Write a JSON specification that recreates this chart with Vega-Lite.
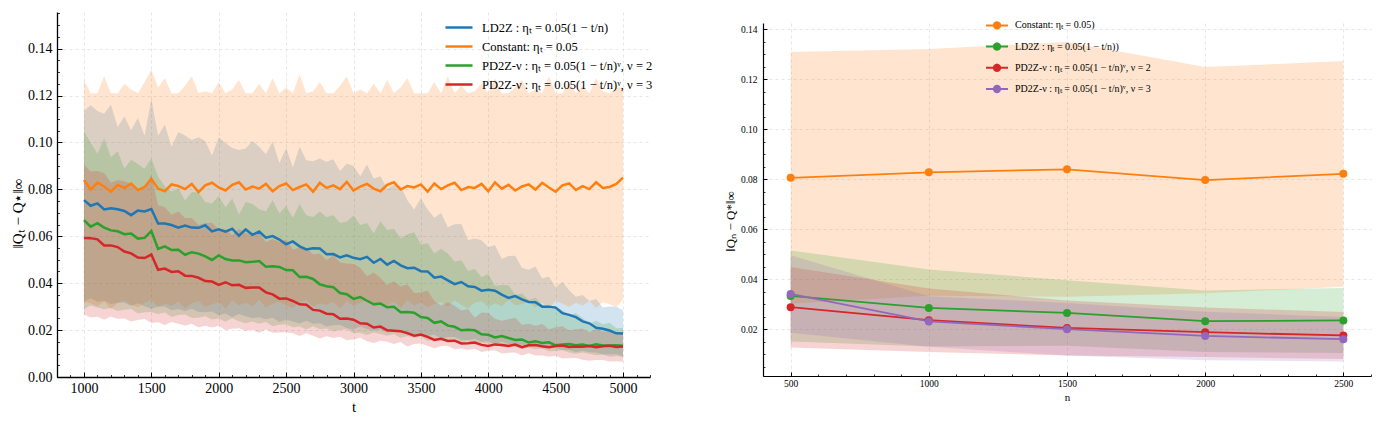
{
  "$schema": "https://vega.github.io/schema/vega-lite/v6.json",
  "background": "white",
  "padding": {"left": 10, "top": 12, "right": 2, "bottom": 2},
  "config": {
    "font": "Liberation Serif",
    "view": {"stroke": null},
    "axis": {
      "labelFont": "Liberation Serif", "titleFont": "Liberation Serif",
      "labelColor": "black", "titleColor": "black", "titleFontWeight": "normal",
      "domainColor": "black", "tickColor": "black",
      "gridColor": "#dcdcdc", "gridDash": [3, 3], "gridWidth": 0.7
    },
    "legend": {"labelFont": "Liberation Serif", "labelColor": "black", "labelLimit": 500}
  },
  "resolve": {
    "scale": {"stroke": "independent"},
    "legend": {"stroke": "independent"}
  },
  "spacing": 71,
  "hconcat": [
    {
      "width": 593,
      "height": 365,
      "data": {"values": [
        {"t":1000,"c":0.0840,"cl":0.0320,"ch":0.1266,"l":0.0754,"ll":0.0322,"lh":0.1134,"g":0.0669,"gl":0.0291,"gh":0.1045,"r":0.0593,"rl":0.0266,"rh":0.0906},
        {"t":1050,"c":0.0799,"cl":0.0314,"ch":0.1210,"l":0.0730,"ll":0.0336,"lh":0.1158,"g":0.0641,"gl":0.0305,"gh":0.1000,"r":0.0592,"rl":0.0254,"rh":0.0876},
        {"t":1100,"c":0.0828,"cl":0.0302,"ch":0.1210,"l":0.0740,"ll":0.0321,"lh":0.1134,"g":0.0656,"gl":0.0296,"gh":0.0952,"r":0.0587,"rl":0.0257,"rh":0.0878},
        {"t":1150,"c":0.0812,"cl":0.0322,"ch":0.1282,"l":0.0714,"ll":0.0325,"lh":0.1122,"g":0.0637,"gl":0.0289,"gh":0.1017,"r":0.0561,"rl":0.0244,"rh":0.0870},
        {"t":1200,"c":0.0790,"cl":0.0290,"ch":0.1210,"l":0.0719,"ll":0.0311,"lh":0.1162,"g":0.0625,"gl":0.0294,"gh":0.0937,"r":0.0561,"rl":0.0258,"rh":0.0828},
        {"t":1250,"c":0.0819,"cl":0.0316,"ch":0.1210,"l":0.0715,"ll":0.0316,"lh":0.1066,"g":0.0621,"gl":0.0281,"gh":0.0962,"r":0.0554,"rl":0.0247,"rh":0.0840},
        {"t":1300,"c":0.0806,"cl":0.0326,"ch":0.1250,"l":0.0708,"ll":0.0317,"lh":0.1110,"g":0.0609,"gl":0.0287,"gh":0.0889,"r":0.0535,"rl":0.0249,"rh":0.0834},
        {"t":1350,"c":0.0825,"cl":0.0308,"ch":0.1226,"l":0.0690,"ll":0.0304,"lh":0.1052,"g":0.0612,"gl":0.0290,"gh":0.0926,"r":0.0527,"rl":0.0237,"rh":0.0824},
        {"t":1400,"c":0.0797,"cl":0.0296,"ch":0.1210,"l":0.0710,"ll":0.0314,"lh":0.1104,"g":0.0590,"gl":0.0271,"gh":0.0908,"r":0.0509,"rl":0.0243,"rh":0.0804},
        {"t":1450,"c":0.0810,"cl":0.0318,"ch":0.1258,"l":0.0706,"ll":0.0302,"lh":0.1028,"g":0.0593,"gl":0.0276,"gh":0.0888,"r":0.0507,"rl":0.0247,"rh":0.0802},
        {"t":1500,"c":0.0845,"cl":0.0328,"ch":0.1310,"l":0.0716,"ll":0.0291,"lh":0.1186,"g":0.0622,"gl":0.0277,"gh":0.0933,"r":0.0522,"rl":0.0230,"rh":0.0862},
        {"t":1550,"c":0.0803,"cl":0.0300,"ch":0.1234,"l":0.0654,"ll":0.0300,"lh":0.1028,"g":0.0546,"gl":0.0269,"gh":0.0854,"r":0.0457,"rl":0.0233,"rh":0.0732},
        {"t":1600,"c":0.0792,"cl":0.0312,"ch":0.1274,"l":0.0654,"ll":0.0301,"lh":0.1076,"g":0.0557,"gl":0.0275,"gh":0.0813,"r":0.0462,"rl":0.0222,"rh":0.0724},
        {"t":1650,"c":0.0821,"cl":0.0304,"ch":0.1210,"l":0.0648,"ll":0.0285,"lh":0.0982,"g":0.0541,"gl":0.0256,"gh":0.0791,"r":0.0448,"rl":0.0234,"rh":0.0692},
        {"t":1700,"c":0.0814,"cl":0.0322,"ch":0.1210,"l":0.0637,"ll":0.0290,"lh":0.1044,"g":0.0542,"gl":0.0264,"gh":0.0805,"r":0.0451,"rl":0.0227,"rh":0.0706},
        {"t":1750,"c":0.0801,"cl":0.0294,"ch":0.1242,"l":0.0646,"ll":0.0281,"lh":0.1030,"g":0.0521,"gl":0.0266,"gh":0.0752,"r":0.0432,"rl":0.0220,"rh":0.0678},
        {"t":1800,"c":0.0823,"cl":0.0314,"ch":0.1282,"l":0.0637,"ll":0.0291,"lh":0.1010,"g":0.0532,"gl":0.0252,"gh":0.0789,"r":0.0431,"rl":0.0227,"rh":0.0678},
        {"t":1850,"c":0.0788,"cl":0.0324,"ch":0.1210,"l":0.0636,"ll":0.0277,"lh":0.1022,"g":0.0526,"gl":0.0253,"gh":0.0787,"r":0.0423,"rl":0.0211,"rh":0.0648},
        {"t":1900,"c":0.0817,"cl":0.0298,"ch":0.1218,"l":0.0647,"ll":0.0276,"lh":0.1006,"g":0.0514,"gl":0.0259,"gh":0.0746,"r":0.0409,"rl":0.0219,"rh":0.0656},
        {"t":1950,"c":0.0828,"cl":0.0310,"ch":0.1210,"l":0.0621,"ll":0.0279,"lh":0.0944,"g":0.0499,"gl":0.0245,"gh":0.0740,"r":0.0407,"rl":0.0211,"rh":0.0658},
        {"t":2000,"c":0.0808,"cl":0.0320,"ch":0.1258,"l":0.0630,"ll":0.0263,"lh":0.1022,"g":0.0518,"gl":0.0249,"gh":0.0772,"r":0.0393,"rl":0.0218,"rh":0.0630},
        {"t":2050,"c":0.0795,"cl":0.0292,"ch":0.1210,"l":0.0620,"ll":0.0271,"lh":0.0998,"g":0.0503,"gl":0.0236,"gh":0.0724,"r":0.0404,"rl":0.0199,"rh":0.0630},
        {"t":2100,"c":0.0819,"cl":0.0326,"ch":0.1226,"l":0.0632,"ll":0.0255,"lh":0.0976,"g":0.0497,"gl":0.0250,"gh":0.0761,"r":0.0391,"rl":0.0206,"rh":0.0604},
        {"t":2150,"c":0.0830,"cl":0.0306,"ch":0.1266,"l":0.0602,"ll":0.0269,"lh":0.0968,"g":0.0497,"gl":0.0238,"gh":0.0693,"r":0.0393,"rl":0.0208,"rh":0.0632},
        {"t":2200,"c":0.0799,"cl":0.0316,"ch":0.1210,"l":0.0629,"ll":0.0259,"lh":0.0974,"g":0.0489,"gl":0.0229,"gh":0.0746,"r":0.0380,"rl":0.0196,"rh":0.0614},
        {"t":2250,"c":0.0812,"cl":0.0302,"ch":0.1210,"l":0.0606,"ll":0.0250,"lh":0.1006,"g":0.0491,"gl":0.0237,"gh":0.0738,"r":0.0382,"rl":0.0201,"rh":0.0604},
        {"t":2300,"c":0.0803,"cl":0.0330,"ch":0.1250,"l":0.0620,"ll":0.0255,"lh":0.0982,"g":0.0494,"gl":0.0227,"gh":0.0715,"r":0.0382,"rl":0.0189,"rh":0.0614},
        {"t":2350,"c":0.0823,"cl":0.0296,"ch":0.1210,"l":0.0594,"ll":0.0246,"lh":0.0950,"g":0.0470,"gl":0.0234,"gh":0.0707,"r":0.0361,"rl":0.0202,"rh":0.0576},
        {"t":2400,"c":0.0792,"cl":0.0312,"ch":0.1274,"l":0.0601,"ll":0.0253,"lh":0.1004,"g":0.0472,"gl":0.0216,"gh":0.0754,"r":0.0352,"rl":0.0189,"rh":0.0588},
        {"t":2450,"c":0.0814,"cl":0.0322,"ch":0.1210,"l":0.0586,"ll":0.0235,"lh":0.0912,"g":0.0469,"gl":0.0223,"gh":0.0698,"r":0.0334,"rl":0.0190,"rh":0.0576},
        {"t":2500,"c":0.0825,"cl":0.0304,"ch":0.1234,"l":0.0566,"ll":0.0245,"lh":0.0976,"g":0.0456,"gl":0.0225,"gh":0.0729,"r":0.0335,"rl":0.0191,"rh":0.0586},
        {"t":2550,"c":0.0797,"cl":0.0294,"ch":0.1210,"l":0.0578,"ll":0.0237,"lh":0.0894,"g":0.0455,"gl":0.0212,"gh":0.0679,"r":0.0324,"rl":0.0186,"rh":0.0542},
        {"t":2600,"c":0.0810,"cl":0.0318,"ch":0.1290,"l":0.0557,"ll":0.0228,"lh":0.0982,"g":0.0426,"gl":0.0215,"gh":0.0737,"r":0.0310,"rl":0.0175,"rh":0.0552},
        {"t":2650,"c":0.0821,"cl":0.0328,"ch":0.1210,"l":0.0544,"ll":0.0240,"lh":0.0924,"g":0.0427,"gl":0.0202,"gh":0.0690,"r":0.0308,"rl":0.0186,"rh":0.0550},
        {"t":2700,"c":0.0790,"cl":0.0300,"ch":0.1218,"l":0.0549,"ll":0.0227,"lh":0.0920,"g":0.0418,"gl":0.0216,"gh":0.0682,"r":0.0286,"rl":0.0176,"rh":0.0522},
        {"t":2750,"c":0.0828,"cl":0.0314,"ch":0.1258,"l":0.0548,"ll":0.0229,"lh":0.0932,"g":0.0395,"gl":0.0204,"gh":0.0705,"r":0.0283,"rl":0.0164,"rh":0.0526},
        {"t":2800,"c":0.0806,"cl":0.0308,"ch":0.1210,"l":0.0523,"ll":0.0215,"lh":0.0918,"g":0.0387,"gl":0.0207,"gh":0.0681,"r":0.0270,"rl":0.0174,"rh":0.0498},
        {"t":2850,"c":0.0817,"cl":0.0320,"ch":0.1210,"l":0.0524,"ll":0.0221,"lh":0.0928,"g":0.0383,"gl":0.0194,"gh":0.0691,"r":0.0268,"rl":0.0166,"rh":0.0518},
        {"t":2900,"c":0.0801,"cl":0.0292,"ch":0.1242,"l":0.0510,"ll":0.0222,"lh":0.0878,"g":0.0358,"gl":0.0200,"gh":0.0656,"r":0.0248,"rl":0.0172,"rh":0.0488},
        {"t":2950,"c":0.0832,"cl":0.0324,"ch":0.1282,"l":0.0519,"ll":0.0209,"lh":0.0910,"g":0.0353,"gl":0.0204,"gh":0.0663,"r":0.0249,"rl":0.0157,"rh":0.0484},
        {"t":3000,"c":0.0795,"cl":0.0302,"ch":0.1210,"l":0.0508,"ll":0.0201,"lh":0.0900,"g":0.0333,"gl":0.0187,"gh":0.0688,"r":0.0244,"rl":0.0160,"rh":0.0482},
        {"t":3050,"c":0.0812,"cl":0.0316,"ch":0.1226,"l":0.0502,"ll":0.0215,"lh":0.0856,"g":0.0341,"gl":0.0189,"gh":0.0648,"r":0.0229,"rl":0.0167,"rh":0.0466},
        {"t":3100,"c":0.0823,"cl":0.0326,"ch":0.1210,"l":0.0512,"ll":0.0205,"lh":0.0906,"g":0.0325,"gl":0.0179,"gh":0.0656,"r":0.0227,"rl":0.0152,"rh":0.0430},
        {"t":3150,"c":0.0803,"cl":0.0298,"ch":0.1250,"l":0.0487,"ll":0.0198,"lh":0.0846,"g":0.0310,"gl":0.0190,"gh":0.0613,"r":0.0211,"rl":0.0145,"rh":0.0446},
        {"t":3200,"c":0.0792,"cl":0.0310,"ch":0.1210,"l":0.0503,"ll":0.0203,"lh":0.0856,"g":0.0313,"gl":0.0183,"gh":0.0664,"r":0.0215,"rl":0.0155,"rh":0.0422},
        {"t":3250,"c":0.0819,"cl":0.0306,"ch":0.1266,"l":0.0479,"ll":0.0189,"lh":0.0802,"g":0.0297,"gl":0.0176,"gh":0.0627,"r":0.0199,"rl":0.0150,"rh":0.0392},
        {"t":3300,"c":0.0830,"cl":0.0322,"ch":0.1210,"l":0.0495,"ll":0.0195,"lh":0.0818,"g":0.0299,"gl":0.0183,"gh":0.0632,"r":0.0197,"rl":0.0141,"rh":0.0408},
        {"t":3350,"c":0.0799,"cl":0.0294,"ch":0.1234,"l":0.0476,"ll":0.0198,"lh":0.0814,"g":0.0276,"gl":0.0166,"gh":0.0592,"r":0.0195,"rl":0.0149,"rh":0.0386},
        {"t":3400,"c":0.0814,"cl":0.0328,"ch":0.1274,"l":0.0464,"ll":0.0178,"lh":0.0754,"g":0.0277,"gl":0.0175,"gh":0.0609,"r":0.0187,"rl":0.0130,"rh":0.0394},
        {"t":3450,"c":0.0808,"cl":0.0304,"ch":0.1210,"l":0.0466,"ll":0.0183,"lh":0.0714,"g":0.0274,"gl":0.0166,"gh":0.0617,"r":0.0176,"rl":0.0141,"rh":0.0358},
        {"t":3500,"c":0.0821,"cl":0.0318,"ch":0.1210,"l":0.0451,"ll":0.0184,"lh":0.0762,"g":0.0256,"gl":0.0173,"gh":0.0565,"r":0.0181,"rl":0.0143,"rh":0.0360},
        {"t":3550,"c":0.0790,"cl":0.0296,"ch":0.1210,"l":0.0450,"ll":0.0175,"lh":0.0714,"g":0.0252,"gl":0.0153,"gh":0.0570,"r":0.0171,"rl":0.0132,"rh":0.0368},
        {"t":3600,"c":0.0825,"cl":0.0312,"ch":0.1258,"l":0.0423,"ll":0.0181,"lh":0.0679,"g":0.0231,"gl":0.0161,"gh":0.0527,"r":0.0158,"rl":0.0123,"rh":0.0324},
        {"t":3650,"c":0.0801,"cl":0.0320,"ch":0.1210,"l":0.0428,"ll":0.0163,"lh":0.0699,"g":0.0237,"gl":0.0162,"gh":0.0547,"r":0.0163,"rl":0.0132,"rh":0.0305},
        {"t":3700,"c":0.0817,"cl":0.0300,"ch":0.1282,"l":0.0412,"ll":0.0170,"lh":0.0638,"g":0.0219,"gl":0.0150,"gh":0.0526,"r":0.0154,"rl":0.0133,"rh":0.0319},
        {"t":3750,"c":0.0828,"cl":0.0326,"ch":0.1210,"l":0.0396,"ll":0.0170,"lh":0.0651,"g":0.0214,"gl":0.0155,"gh":0.0492,"r":0.0155,"rl":0.0118,"rh":0.0304},
        {"t":3800,"c":0.0797,"cl":0.0308,"ch":0.1242,"l":0.0405,"ll":0.0158,"lh":0.0652,"g":0.0199,"gl":0.0144,"gh":0.0498,"r":0.0143,"rl":0.0121,"rh":0.0283},
        {"t":3850,"c":0.0810,"cl":0.0292,"ch":0.1210,"l":0.0387,"ll":0.0158,"lh":0.0583,"g":0.0201,"gl":0.0154,"gh":0.0452,"r":0.0144,"rl":0.0115,"rh":0.0290},
        {"t":3900,"c":0.0806,"cl":0.0316,"ch":0.1218,"l":0.0384,"ll":0.0162,"lh":0.0590,"g":0.0199,"gl":0.0142,"gh":0.0460,"r":0.0147,"rl":0.0120,"rh":0.0253},
        {"t":3950,"c":0.0823,"cl":0.0324,"ch":0.1250,"l":0.0368,"ll":0.0150,"lh":0.0583,"g":0.0182,"gl":0.0143,"gh":0.0425,"r":0.0137,"rl":0.0107,"rh":0.0275},
        {"t":4000,"c":0.0792,"cl":0.0298,"ch":0.1210,"l":0.0372,"ll":0.0152,"lh":0.0554,"g":0.0180,"gl":0.0143,"gh":0.0439,"r":0.0132,"rl":0.0112,"rh":0.0273},
        {"t":4050,"c":0.0830,"cl":0.0314,"ch":0.1274,"l":0.0368,"ll":0.0141,"lh":0.0562,"g":0.0169,"gl":0.0137,"gh":0.0389,"r":0.0139,"rl":0.0114,"rh":0.0248},
        {"t":4100,"c":0.0803,"cl":0.0302,"ch":0.1210,"l":0.0351,"ll":0.0151,"lh":0.0503,"g":0.0175,"gl":0.0129,"gh":0.0392,"r":0.0136,"rl":0.0100,"rh":0.0240},
        {"t":4150,"c":0.0819,"cl":0.0328,"ch":0.1210,"l":0.0337,"ll":0.0141,"lh":0.0516,"g":0.0166,"gl":0.0136,"gh":0.0391,"r":0.0132,"rl":0.0103,"rh":0.0246},
        {"t":4200,"c":0.0795,"cl":0.0306,"ch":0.1234,"l":0.0345,"ll":0.0134,"lh":0.0517,"g":0.0158,"gl":0.0128,"gh":0.0351,"r":0.0138,"rl":0.0104,"rh":0.0253},
        {"t":4250,"c":0.0812,"cl":0.0310,"ch":0.1266,"l":0.0331,"ll":0.0139,"lh":0.0466,"g":0.0160,"gl":0.0119,"gh":0.0356,"r":0.0127,"rl":0.0092,"rh":0.0223},
        {"t":4300,"c":0.0821,"cl":0.0322,"ch":0.1210,"l":0.0320,"ll":0.0130,"lh":0.0457,"g":0.0147,"gl":0.0125,"gh":0.0328,"r":0.0135,"rl":0.0101,"rh":0.0227},
        {"t":4350,"c":0.0799,"cl":0.0296,"ch":0.1226,"l":0.0319,"ll":0.0134,"lh":0.0471,"g":0.0152,"gl":0.0118,"gh":0.0338,"r":0.0136,"rl":0.0092,"rh":0.0218},
        {"t":4400,"c":0.0828,"cl":0.0318,"ch":0.1210,"l":0.0300,"ll":0.0121,"lh":0.0420,"g":0.0145,"gl":0.0121,"gh":0.0308,"r":0.0131,"rl":0.0092,"rh":0.0226},
        {"t":4450,"c":0.0808,"cl":0.0292,"ch":0.1282,"l":0.0300,"ll":0.0124,"lh":0.0428,"g":0.0148,"gl":0.0110,"gh":0.0304,"r":0.0127,"rl":0.0086,"rh":0.0204},
        {"t":4500,"c":0.0790,"cl":0.0326,"ch":0.1210,"l":0.0296,"ll":0.0124,"lh":0.0383,"g":0.0135,"gl":0.0111,"gh":0.0301,"r":0.0132,"rl":0.0091,"rh":0.0212},
        {"t":4550,"c":0.0817,"cl":0.0312,"ch":0.1210,"l":0.0272,"ll":0.0115,"lh":0.0406,"g":0.0139,"gl":0.0114,"gh":0.0285,"r":0.0134,"rl":0.0079,"rh":0.0216},
        {"t":4600,"c":0.0825,"cl":0.0300,"ch":0.1258,"l":0.0265,"ll":0.0115,"lh":0.0370,"g":0.0141,"gl":0.0104,"gh":0.0262,"r":0.0128,"rl":0.0080,"rh":0.0199},
        {"t":4650,"c":0.0797,"cl":0.0316,"ch":0.1210,"l":0.0255,"ll":0.0106,"lh":0.0342,"g":0.0135,"gl":0.0099,"gh":0.0273,"r":0.0130,"rl":0.0081,"rh":0.0204},
        {"t":4700,"c":0.0814,"cl":0.0304,"ch":0.1242,"l":0.0237,"ll":0.0112,"lh":0.0350,"g":0.0138,"gl":0.0104,"gh":0.0252,"r":0.0129,"rl":0.0074,"rh":0.0207},
        {"t":4750,"c":0.0801,"cl":0.0324,"ch":0.1210,"l":0.0229,"ll":0.0105,"lh":0.0324,"g":0.0132,"gl":0.0099,"gh":0.0227,"r":0.0132,"rl":0.0069,"rh":0.0191},
        {"t":4800,"c":0.0830,"cl":0.0294,"ch":0.1274,"l":0.0210,"ll":0.0104,"lh":0.0333,"g":0.0139,"gl":0.0093,"gh":0.0240,"r":0.0127,"rl":0.0072,"rh":0.0206},
        {"t":4850,"c":0.0806,"cl":0.0320,"ch":0.1218,"l":0.0206,"ll":0.0096,"lh":0.0296,"g":0.0134,"gl":0.0096,"gh":0.0225,"r":0.0131,"rl":0.0073,"rh":0.0194},
        {"t":4900,"c":0.0810,"cl":0.0310,"ch":0.1210,"l":0.0198,"ll":0.0097,"lh":0.0301,"g":0.0134,"gl":0.0086,"gh":0.0231,"r":0.0133,"rl":0.0066,"rh":0.0197},
        {"t":4950,"c":0.0823,"cl":0.0298,"ch":0.1234,"l":0.0186,"ll":0.0097,"lh":0.0300,"g":0.0135,"gl":0.0089,"gh":0.0208,"r":0.0128,"rl":0.0067,"rh":0.0189},
        {"t":5000,"c":0.0850,"cl":0.0328,"ch":0.1234,"l":0.0185,"ll":0.0090,"lh":0.0285,"g":0.0133,"gl":0.0085,"gh":0.0210,"r":0.0130,"rl":0.0065,"rh":0.0190}
      ]},
      "resolve": {"axis": {"x": "independent", "y": "independent"}},
      "encoding": {
        "x": {"field": "t", "type": "quantitative", "scale": {"domain": [800, 5200], "nice": false, "zero": false}, "axis": null}
      },
      "layer": [
        {
          "mark": {"type": "line", "opacity": 0},
          "encoding": {
            "x": {"field": "t", "type": "quantitative", "scale": {"domain": [800, 5200], "nice": false, "zero": false},
              "axis": {"orient": "bottom", "values": [800,900,1000,1100,1200,1300,1400,1500,1600,1700,1800,1900,2000,2100,2200,2300,2400,2500,2600,2700,2800,2900,3000,3100,3200,3300,3400,3500,3600,3700,3800,3900,4000,4100,4200,4300,4400,4500,4600,4700,4800,4900,5000,5100,5200],
                "labels": false, "domain": false, "grid": false, "tickSize": -2.5, "tickWidth": 0.8, "title": null}},
            "y": {"field": "c", "type": "quantitative", "scale": {"domain": [0, 0.1556], "nice": false},
              "axis": {"orient": "left", "values": [0,0.005,0.01,0.015,0.02,0.025,0.03,0.035,0.04,0.045,0.05,0.055,0.06,0.065,0.07,0.075,0.08,0.085,0.09,0.095,0.1,0.105,0.11,0.115,0.12,0.125,0.13,0.135,0.14,0.145,0.15,0.155],
                "labels": false, "domain": false, "grid": false, "tickSize": -2.5, "tickWidth": 0.8, "title": null}}
          }
        },
        {
          "mark": {"type": "area", "color": "#1f77b4", "opacity": 0.2},
          "encoding": {
            "x": {"field": "t", "type": "quantitative", "scale": {"domain": [800, 5200], "nice": false, "zero": false},
              "axis": {"orient": "bottom", "values": [1000,1500,2000,2500,3000,3500,4000,4500,5000], "format": "d",
                "tickSize": -5, "tickWidth": 1, "domainWidth": 1.3, "labelPadding": 9, "labelFontSize": 14,
                "grid": true, "title": "t", "titleFontSize": 15, "titlePadding": 4}},
            "y": {"field": "lh", "type": "quantitative", "scale": {"domain": [0, 0.1556], "nice": false},
              "axis": {"orient": "left", "values": [0,0.02,0.04,0.06,0.08,0.1,0.12,0.14], "format": ".2f",
                "tickSize": -5, "tickWidth": 1, "domainWidth": 1.3, "labelPadding": 10, "labelFontSize": 14,
                "grid": true, "title": "‖Qₜ − Q⋆‖∞", "titleFontSize": 15, "titlePadding": 2, "titleY": 201}},
            "y2": {"field": "ll"}
          }
        },
        {
          "mark": {"type": "area", "color": "#ff7f0e", "opacity": 0.2},
          "encoding": {
            "y": {"field": "ch", "type": "quantitative", "scale": {"domain": [0, 0.1556], "nice": false}, "axis": null},
            "y2": {"field": "cl"}
          }
        },
        {
          "mark": {"type": "area", "color": "#2ca02c", "opacity": 0.2},
          "encoding": {
            "y": {"field": "gh", "type": "quantitative", "scale": {"domain": [0, 0.1556], "nice": false}, "axis": null},
            "y2": {"field": "gl"}
          }
        },
        {
          "mark": {"type": "area", "color": "#d62728", "opacity": 0.2},
          "encoding": {
            "y": {"field": "rh", "type": "quantitative", "scale": {"domain": [0, 0.1556], "nice": false}, "axis": null},
            "y2": {"field": "rl"}
          }
        },
        {
          "mark": {"type": "line", "strokeWidth": 2.5},
          "encoding": {
            "y": {"field": "l", "type": "quantitative", "scale": {"domain": [0, 0.1556], "nice": false}, "axis": null},
            "stroke": {"datum": "LD2Z : ηₜ = 0.05(1 − t/n)",
              "scale": {"domain": ["LD2Z : ηₜ = 0.05(1 − t/n)", "Constant: ηₜ = 0.05", "PD2Z-ν : ηₜ = 0.05(1 − t/n)ᵛ, ν = 2", "PD2Z-ν : ηₜ = 0.05(1 − t/n)ᵛ, ν = 3"],
                "range": ["#1f77b4", "#ff7f0e", "#2ca02c", "#d62728"]},
              "legend": {"orient": "none", "legendX": 387, "legendY": 9, "title": null,
                "symbolType": "M-1,0H4.4", "symbolSize": 100, "symbolStrokeWidth": 2.5,
                "labelFontSize": 12.5, "labelOffset": 25, "rowPadding": 6}}
          }
        },
        {
          "mark": {"type": "line", "strokeWidth": 2.5},
          "encoding": {
            "y": {"field": "c", "type": "quantitative", "scale": {"domain": [0, 0.1556], "nice": false}, "axis": null},
            "stroke": {"datum": "Constant: ηₜ = 0.05"}
          }
        },
        {
          "mark": {"type": "line", "strokeWidth": 2.5},
          "encoding": {
            "y": {"field": "g", "type": "quantitative", "scale": {"domain": [0, 0.1556], "nice": false}, "axis": null},
            "stroke": {"datum": "PD2Z-ν : ηₜ = 0.05(1 − t/n)ᵛ, ν = 2"}
          }
        },
        {
          "mark": {"type": "line", "strokeWidth": 2.5},
          "encoding": {
            "y": {"field": "r", "type": "quantitative", "scale": {"domain": [0, 0.1556], "nice": false}, "axis": null},
            "stroke": {"datum": "PD2Z-ν : ηₜ = 0.05(1 − t/n)ᵛ, ν = 3"}
          }
        }
      ]
    },
    {
      "spacing": 0,
      "vconcat": [
        {
          "width": 608,
          "height": 11,
          "data": {"values": [{"n": 0}]},
          "mark": {"type": "point", "opacity": 0}
        },
        {
          "width": 608,
          "height": 353,
          "data": {"values": [
            {"n":500,"c":0.0805,"cl":0.0302,"ch":0.1308,"l":0.0333,"ll":0.0151,"lh":0.0515,"p2":0.0288,"p2l":0.0127,"p2h":0.0449,"p3":0.0341,"p3l":0.0186,"p3h":0.0496},
            {"n":1000,"c":0.0827,"cl":0.0334,"ch":0.1320,"l":0.0285,"ll":0.0131,"lh":0.0439,"p2":0.0236,"p2l":0.0109,"p2h":0.0363,"p3":0.0231,"p3l":0.0130,"p3h":0.0332},
            {"n":1500,"c":0.0839,"cl":0.0330,"ch":0.1348,"l":0.0265,"ll":0.0134,"lh":0.0396,"p2":0.0205,"p2l":0.0095,"p2h":0.0315,"p3":0.0200,"p3l":0.0095,"p3h":0.0305},
            {"n":2000,"c":0.0796,"cl":0.0344,"ch":0.1248,"l":0.0232,"ll":0.0109,"lh":0.0355,"p2":0.0188,"p2l":0.0089,"p2h":0.0287,"p3":0.0173,"p3l":0.0076,"p3h":0.0270},
            {"n":2500,"c":0.0821,"cl":0.0370,"ch":0.1272,"l":0.0235,"ll":0.0105,"lh":0.0365,"p2":0.0175,"p2l":0.0081,"p2h":0.0269,"p3":0.0160,"p3l":0.0071,"p3h":0.0249}
          ]},
          "resolve": {"axis": {"x": "independent", "y": "independent"}},
          "encoding": {
            "x": {"field": "n", "type": "quantitative", "scale": {"domain": [400, 2600], "nice": false, "zero": false}, "axis": null}
          },
          "layer": [
            {
              "mark": {"type": "line", "opacity": 0},
              "encoding": {
                "x": {"field": "n", "type": "quantitative", "scale": {"domain": [400, 2600], "nice": false, "zero": false},
                  "axis": {"orient": "bottom", "values": [400,500,600,700,800,900,1000,1100,1200,1300,1400,1500,1600,1700,1800,1900,2000,2100,2200,2300,2400,2500,2600],
                    "labels": false, "domain": false, "grid": false, "tickSize": -2, "tickWidth": 0.8, "title": null}},
                "y": {"field": "c", "type": "quantitative", "scale": {"domain": [0.0013, 0.1424], "nice": false, "zero": false},
                  "axis": {"orient": "left", "values": [0.005,0.01,0.015,0.02,0.025,0.03,0.035,0.04,0.045,0.05,0.055,0.06,0.065,0.07,0.075,0.08,0.085,0.09,0.095,0.1,0.105,0.11,0.115,0.12,0.125,0.13,0.135,0.14],
                    "labels": false, "domain": false, "grid": false, "tickSize": -2, "tickWidth": 0.8, "title": null}}
              }
            },
            {
              "mark": {"type": "area", "color": "#ff7f0e", "opacity": 0.2},
              "encoding": {
                "x": {"field": "n", "type": "quantitative", "scale": {"domain": [400, 2600], "nice": false, "zero": false},
                  "axis": {"orient": "bottom", "values": [500,1000,1500,2000,2500], "format": "d",
                    "tickSize": -4, "tickWidth": 1, "domainWidth": 1.2, "labelPadding": 6, "labelFontSize": 9.5,
                    "grid": true, "title": "n", "titleFontSize": 11, "titlePadding": 4}},
                "y": {"field": "ch", "type": "quantitative", "scale": {"domain": [0.0013, 0.1424], "nice": false, "zero": false},
                  "axis": {"orient": "left", "values": [0.02,0.04,0.06,0.08,0.1,0.12,0.14], "format": ".2f",
                    "tickSize": -4, "tickWidth": 1, "domainWidth": 1.2, "labelPadding": 10, "labelFontSize": 9.5,
                    "grid": true, "title": "‖Qₙ − Q*‖∞", "titleFontSize": 13, "titlePadding": 3, "titleY": 198}},
                "y2": {"field": "cl"}
              }
            },
            {
              "mark": {"type": "area", "color": "#2ca02c", "opacity": 0.2},
              "encoding": {
                "y": {"field": "lh", "type": "quantitative", "scale": {"domain": [0.0013, 0.1424], "nice": false, "zero": false}, "axis": null},
                "y2": {"field": "ll"}
              }
            },
            {
              "mark": {"type": "area", "color": "#d62728", "opacity": 0.2},
              "encoding": {
                "y": {"field": "p2h", "type": "quantitative", "scale": {"domain": [0.0013, 0.1424], "nice": false, "zero": false}, "axis": null},
                "y2": {"field": "p2l"}
              }
            },
            {
              "mark": {"type": "area", "color": "#9467bd", "opacity": 0.2},
              "encoding": {
                "y": {"field": "p3h", "type": "quantitative", "scale": {"domain": [0.0013, 0.1424], "nice": false, "zero": false}, "axis": null},
                "y2": {"field": "p3l"}
              }
            },
            {
              "mark": {"type": "line", "strokeWidth": 1.8},
              "encoding": {
                "y": {"field": "c", "type": "quantitative", "scale": {"domain": [0.0013, 0.1424], "nice": false, "zero": false}, "axis": null},
                "stroke": {"datum": "Constant: ηₜ = 0.05)",
                  "scale": {"domain": ["Constant: ηₜ = 0.05)", "LD2Z : ηₜ = 0.05(1 − t/n))", "PD2Z-ν : ηₜ = 0.05(1 − t/n)ᵛ, ν = 2", "PD2Z-ν : ηₜ = 0.05(1 − t/n)ᵛ, ν = 3"],
                    "range": ["#ff7f0e", "#2ca02c", "#d62728", "#9467bd"]},
                  "legend": {"orient": "none", "legendX": 222, "legendY": 8.4, "title": null,
                    "symbolType": "M-1,0H4.5M2.55,0L2.443,0.4L2.15,0.693L1.75,0.8L1.35,0.693L1.057,0.4L0.95,0L1.057,-0.4L1.35,-0.693L1.75,-0.8L2.15,-0.693L2.443,-0.4Z",
                    "symbolSize": 64, "symbolStrokeWidth": 2, "symbolOpacity": 1,
                    "labelFontSize": 10, "labelOffset": 20, "rowPadding": 5.2,
                    "encode": {"symbols": {"update": {"fill": {"signal": "['#ff7f0e', '#2ca02c', '#d62728', '#9467bd'][datum.index]"}}}}}}
              }
            },
            {
              "mark": {"type": "line", "strokeWidth": 1.8},
              "encoding": {
                "y": {"field": "l", "type": "quantitative", "scale": {"domain": [0.0013, 0.1424], "nice": false, "zero": false}, "axis": null},
                "stroke": {"datum": "LD2Z : ηₜ = 0.05(1 − t/n))"}
              }
            },
            {
              "mark": {"type": "line", "strokeWidth": 1.8},
              "encoding": {
                "y": {"field": "p2", "type": "quantitative", "scale": {"domain": [0.0013, 0.1424], "nice": false, "zero": false}, "axis": null},
                "stroke": {"datum": "PD2Z-ν : ηₜ = 0.05(1 − t/n)ᵛ, ν = 2"}
              }
            },
            {
              "mark": {"type": "line", "strokeWidth": 1.8},
              "encoding": {
                "y": {"field": "p3", "type": "quantitative", "scale": {"domain": [0.0013, 0.1424], "nice": false, "zero": false}, "axis": null},
                "stroke": {"datum": "PD2Z-ν : ηₜ = 0.05(1 − t/n)ᵛ, ν = 3"}
              }
            },
            {
              "mark": {"type": "circle", "size": 64, "opacity": 1, "color": "#ff7f0e"},
              "encoding": {
                "y": {"field": "c", "type": "quantitative", "scale": {"domain": [0.0013, 0.1424], "nice": false, "zero": false}, "axis": null}
              }
            },
            {
              "mark": {"type": "circle", "size": 64, "opacity": 1, "color": "#2ca02c"},
              "encoding": {
                "y": {"field": "l", "type": "quantitative", "scale": {"domain": [0.0013, 0.1424], "nice": false, "zero": false}, "axis": null}
              }
            },
            {
              "mark": {"type": "circle", "size": 64, "opacity": 1, "color": "#d62728"},
              "encoding": {
                "y": {"field": "p2", "type": "quantitative", "scale": {"domain": [0.0013, 0.1424], "nice": false, "zero": false}, "axis": null}
              }
            },
            {
              "mark": {"type": "circle", "size": 64, "opacity": 1, "color": "#9467bd"},
              "encoding": {
                "y": {"field": "p3", "type": "quantitative", "scale": {"domain": [0.0013, 0.1424], "nice": false, "zero": false}, "axis": null}
              }
            }
          ]
        }
      ]
    }
  ]
}
